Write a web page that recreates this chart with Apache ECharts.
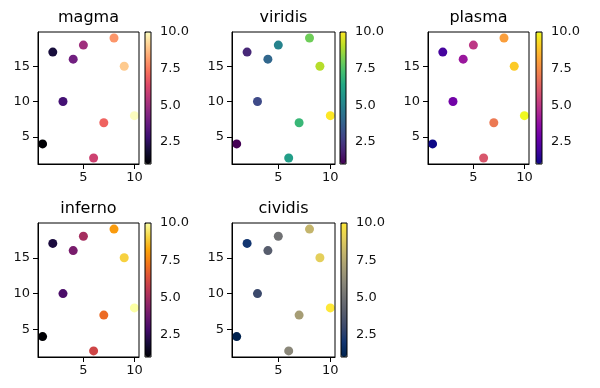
<!DOCTYPE html>
<html><head><meta charset="utf-8">
<script src="https://cdn.jsdelivr.net/npm/echarts@6/dist/echarts.min.js"></script>
<style>html,body{margin:0;padding:0;background:#fff}#c{width:600px;height:388px}</style>
</head><body><div id="c"></div>
<script>
const xs = [1, 2, 3, 4, 5, 6, 7, 8, 9, 10];
const ys = [4, 17, 10, 16, 18, 2, 7, 19, 15, 8];
const cs = [1, 2, 3, 4, 5, 6, 7, 8, 9, 10];
const names = ['magma', 'viridis', 'plasma', 'inferno', 'cividis'];
const xTicks = [5, 10];
const yTicks = [5, 10, 15];
const cbTicks = [2.5, 5, 7.5, 10];
const cmaps = {
  magma: ['#000004','#140e36','#3b0f70','#641a80','#8c2981','#b73779','#de4968','#f7705c','#fe9f6d','#fecf92','#fcfdbf'],
  viridis: ['#440154','#482475','#414487','#355f8d','#2a788e','#21918c','#22a884','#44bf70','#7ad151','#bddf26','#fde725'],
  plasma: ['#0d0887','#41049d','#6a00a8','#8f0da4','#b12a90','#cc4778','#e16462','#f2844b','#fca636','#fcce25','#f0f921'],
  inferno: ['#000004','#160b39','#420a68','#6a176e','#932667','#bc3754','#dd513a','#f37819','#fca50a','#f6d746','#fcffa4'],
  cividis: ['#00224e','#123570','#3b496c','#575d6d','#707173','#8a8779','#a69d75','#c4b56c','#e4cf5b','#fee838']
};

const layout = [
  {left: 38, width: 101, top: 32, height: 132, cb: 145},
  {left: 232, width: 103, top: 32, height: 132, cb: 340},
  {left: 428, width: 101, top: 32, height: 132, cb: 536},
  {left: 38, width: 101, top: 223, height: 134, cb: 145},
  {left: 232, width: 103, top: 223, height: 134, cb: 341}
];
const font = 'DejaVu Sans';
const cmin = Math.min(...cs), cmax = Math.max(...cs);
const opt = {animation: false, title: [], grid: [], xAxis: [], yAxis: [], series: [], visualMap: []};
const axLine = {show: true, lineStyle: {color: '#000', width: 1}};
const lbl = {color: '#111', fontFamily: font, fontSize: 13};

names.forEach((nm, i) => {
  const L = layout[i];
  const g = 2 * i, gc = 2 * i + 1;
  opt.title.push({text: nm, left: L.left + L.width / 2, top: L.top - 22, textAlign: 'center', padding: 0,
    textStyle: {fontFamily: font, fontSize: 16, fontWeight: 'normal', color: '#000'}});
  opt.grid.push({left: L.left, top: L.top, width: L.width, height: L.height, show: true, borderColor: '#000', borderWidth: 1, backgroundColor: 'transparent', z: 3});
  opt.grid.push({left: L.cb, top: L.top, width: 6, height: L.height, show: true, borderColor: '#000', borderWidth: 1, backgroundColor: 'transparent', z: 10});
  opt.xAxis.push({type: 'value', gridIndex: g, min: 0.55, max: 10.45, splitLine: {show: false}, axisLine: axLine,
    axisTick: {show: true, length: 5, customValues: xTicks, lineStyle: {color: '#000'}},
    axisLabel: Object.assign({customValues: xTicks, margin: 7}, lbl)});
  opt.yAxis.push({type: 'value', gridIndex: g, min: 1.15, max: 19.85, splitLine: {show: false}, axisLine: axLine,
    axisTick: {show: true, length: 5, customValues: yTicks, lineStyle: {color: '#000'}},
    axisLabel: Object.assign({customValues: yTicks, margin: 8}, lbl)});
  opt.xAxis.push({type: 'value', gridIndex: gc, min: 0, max: 1, show: false});
  opt.yAxis.push({type: 'value', gridIndex: gc, min: cmin, max: cmax, position: 'right', splitLine: {show: false},
    axisLine: {show: false},
    axisTick: {show: true, length: 5, customValues: cbTicks, lineStyle: {color: '#000'}},
    axisLabel: Object.assign({customValues: cbTicks, margin: 9, formatter: v => v.toFixed(1)}, lbl)});
  opt.series.push({type: 'scatter', xAxisIndex: g, yAxisIndex: g, symbolSize: 9,
    itemStyle: {opacity: 1}, emphasis: {disabled: true},
    data: xs.map((x, k) => [x, ys[k], cs[k]])});
  opt.visualMap.push({type: 'continuous', seriesIndex: i, dimension: 2, min: cmin, max: cmax,
    inRange: {color: cmaps[nm]}, calculable: false, hoverLink: false, realtime: false,
    left: L.cb, top: L.top, itemWidth: 6, itemHeight: L.height, padding: 0, text: null, showLabel: false, z: 2});
});

const chart = echarts.init(document.getElementById('c'), null, {renderer: 'canvas'});
chart.setOption(opt);
</script></body></html>
